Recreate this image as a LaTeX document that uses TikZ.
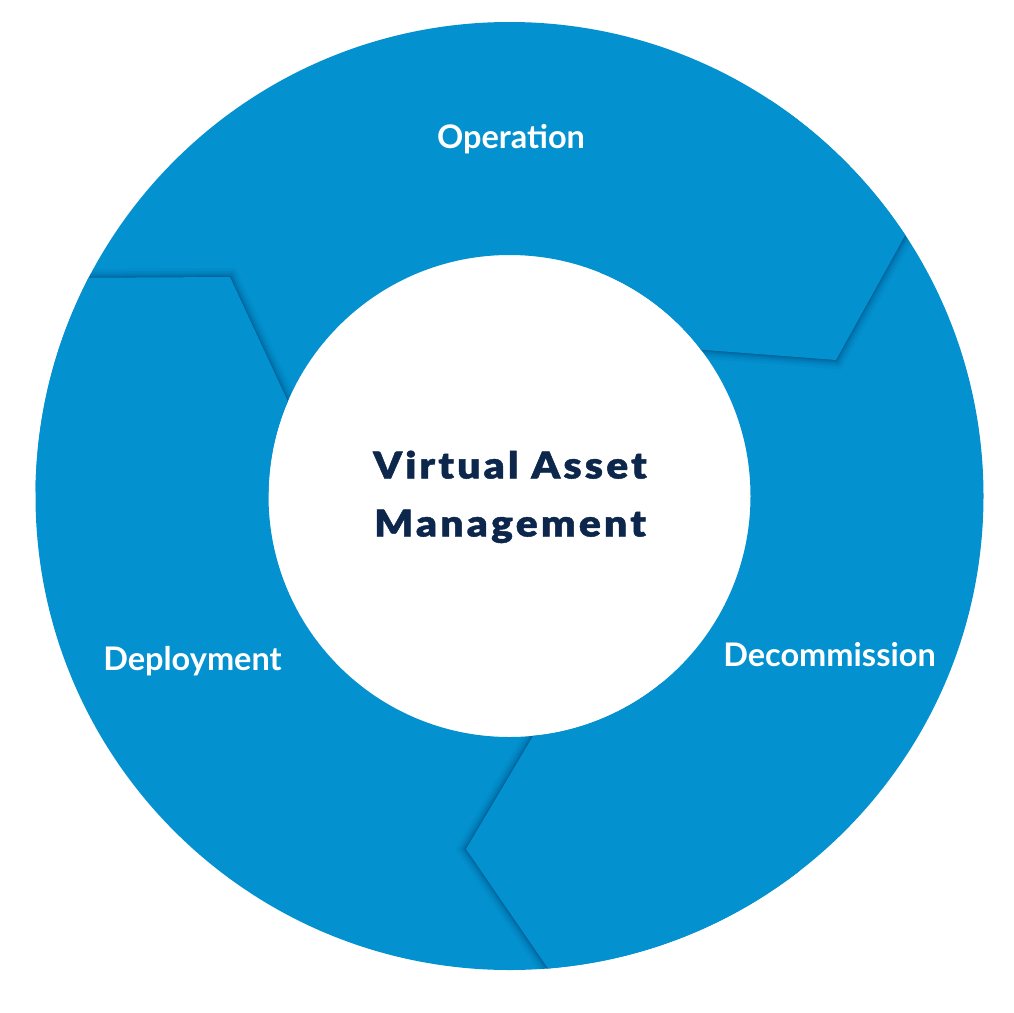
\documentclass[tikz,border=0pt]{standalone}
\usepackage{fontspec}
\setmainfont{Lato}
\newfontfamily\latoblack{Lato Black}[LetterSpace=8,FakeBold=1.2]
\definecolor{ringblue}{RGB}{4,145,207}
\definecolor{navy}{RGB}{13,38,75}
\definecolor{shadowblue}{RGB}{0,62,110}
\begin{document}
\begin{tikzpicture}[x=1pt,y=-1pt,
  lbl/.style={text=white,font=\fontsize{32.5}{38}\selectfont\bfseries,anchor=base,inner sep=0pt},
  ctr/.style={text=navy,font=\fontsize{37}{42}\latoblack\selectfont,anchor=base,inner sep=0pt,xscale=1.1},
  cover/.style={fill=ringblue},
  shadowline/.style={draw=shadowblue,line join=miter,line cap=butt}]
\useasboundingbox (0,0) rectangle (1013,1013);
\coordinate (C) at (509.5,496);
% ring
\fill[ringblue,even odd rule] (C) circle[radius=474] (C) circle[radius=241];
\begin{scope}[even odd rule]
\clip (C) circle[radius=474] (C) circle[radius=241];
% notch points
\coordinate (a1) at (60,278.2);
\coordinate (a2) at (230,277);
\coordinate (a3) at (300,428);
\coordinate (b1) at (938,176);
\coordinate (b2) at (836,360);
\coordinate (b3) at (600,342);
\coordinate (c1) at (565,682);
\coordinate (c2) at (466,849);
\coordinate (c3) at (580,1015);
% soft shadows
\foreach \w/\o in {18/0.05,13/0.07,9/0.09,6/0.11,3.5/0.14,1.5/0.25}{
  \draw[shadowline,line width=\w pt,opacity=\o] (a1) -- (a2) -- (a3);
  \draw[shadowline,line width=\w pt,opacity=\o] (b1) -- (b2) -- (b3);
  \draw[shadowline,line width=\w pt,opacity=\o] (c1) -- (c2) -- (c3);
}
% overlapping arrow heads
\fill[cover] (0,278.2) -- (a2) -- (330,492) -- (0,492) -- cycle;
\fill[cover] (b1) -- (b2) -- (b3) -- (600,100) -- (990,100) -- cycle;
\fill[cover] (c1) -- (c2) -- (c3) -- (800,1015) -- (800,682) -- cycle;
\end{scope}
% labels
\node[lbl] (op) at (511,148) {\addfontfeature{Ligatures={Common,Rare}}Operation};
\node[lbl] (dep) at (192.5,670) {Deployment};
\node[lbl] (dec) at (829.5,666) {Decommission};
\node[ctr] (v1) at (510,478.5) {Virtual Asset};
\node[ctr] (v2) at (510,536.5) {Management};
\end{tikzpicture}
\end{document}
